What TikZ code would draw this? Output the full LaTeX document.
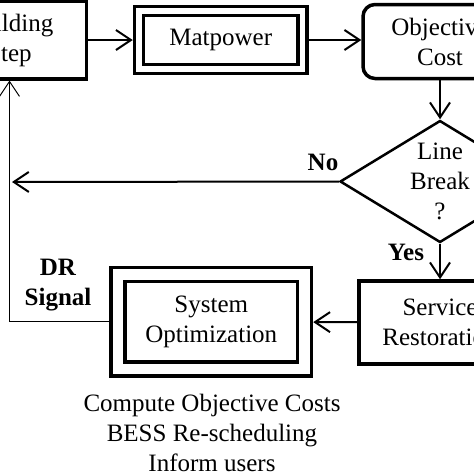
\documentclass[tikz,border=0pt]{standalone}
\usepackage{fontspec}
\setmainfont{Liberation Serif}
\usetikzlibrary{arrows.meta,shapes.geometric}
\newcommand{\flowfont}{\fontsize{25}{30}\selectfont}

\begin{document}
\begin{tikzpicture}[x=1pt, y=-1pt, >={Straight Barb[length=15pt,width=20pt]},
    font=\flowfont,
    block/.style={draw, line width=3.5pt, align=center, inner sep=0pt},
    dblock/.style={block, double, double distance=#1},
    flow/.style={->, line width=2pt},
    feed/.style={->, line width=1pt},
    lbl/.style={font=\flowfont\bfseries, align=center}]
    \useasboundingbox (0,0) rectangle (474,474);
    \clip (0,0) rectangle (474,474);

    % Top row
    \node[block, minimum width=154pt, minimum height=77.5pt] (build) at (9.5,40) {Building\\Step};
    \node[dblock=5.5pt, outer sep=6.25pt, minimum width=163.5pt, minimum height=58pt] (matp) at (220.75,40) {Matpower};
    \node[block, rounded corners=12pt, minimum width=154pt, minimum height=74pt] (obj) at (440,41.5) {Objective\\Cost};

    % Decision
    \node[diamond, draw, line width=2.5pt, align=center, inner sep=0pt, aspect=1.64,
          minimum width=200pt, minimum height=122pt] (brk) at (440,181.5) {Line\\Break\\?};

    % Bottom row
    \node[block, minimum width=162pt, minimum height=83pt] (serv) at (440,322.5) {Service\\Restoration};
    \node[dblock=10.5pt, outer sep=8.75pt, minimum width=186.5pt, minimum height=94.5pt] (sysopt) at (211.25,321.75) {System\\Optimization};
    \node[align=center] (tasks) at (212,433) {Compute Objective Costs\\BESS Re-scheduling\\Inform users};

    % Flow arrows
    \draw[flow] (build.east |- matp) -- (matp);
    \draw[flow] (matp) -- (obj.west |- matp);
    \draw[flow] (obj) -- (brk);
    \coordinate (nofb) at (12,182);
    \draw[flow] (brk.west) -- (nofb);
    \node[lbl] (no) at (323,162) {No};
    \draw[flow] (brk) -- (serv);
    \node[lbl] (yes) at (406,252) {Yes};
    \draw[flow] (serv) -- (sysopt);

    % Feedback
    \draw[feed] (sysopt.west) -| (build.south);
    \node[lbl] (dr) at (58,285) {DR\\Signal};
\end{tikzpicture}
\end{document}
